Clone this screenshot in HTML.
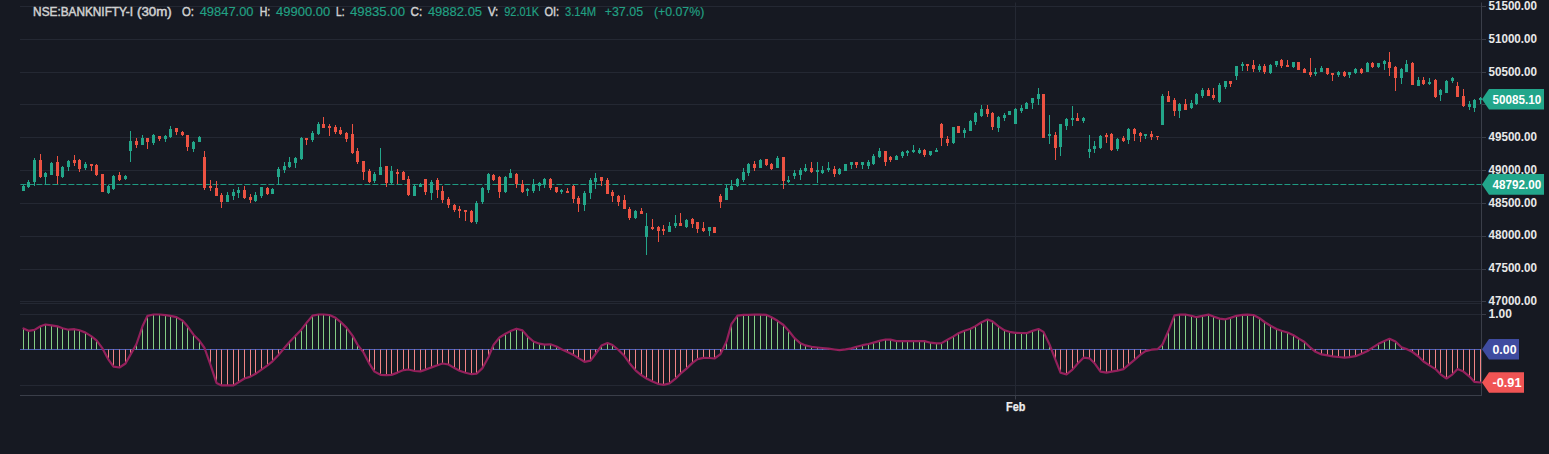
<!DOCTYPE html><html><head><meta charset="utf-8"><style>html,body{margin:0;padding:0;background:#161922;width:1549px;height:454px;overflow:hidden}svg{display:block}text{font-family:"Liberation Sans",sans-serif}</style></head><body><svg width="1549" height="454" viewBox="0 0 1549 454"><rect width="1549" height="454" fill="#161922"/><line x1="20" y1="6.5" x2="1481" y2="6.5" stroke="#242833" stroke-width="1"/><line x1="20" y1="39.5" x2="1481" y2="39.5" stroke="#242833" stroke-width="1"/><line x1="20" y1="72.5" x2="1481" y2="72.5" stroke="#242833" stroke-width="1"/><line x1="20" y1="104.5" x2="1481" y2="104.5" stroke="#242833" stroke-width="1"/><line x1="20" y1="137.5" x2="1481" y2="137.5" stroke="#242833" stroke-width="1"/><line x1="20" y1="170.5" x2="1481" y2="170.5" stroke="#242833" stroke-width="1"/><line x1="20" y1="203.5" x2="1481" y2="203.5" stroke="#242833" stroke-width="1"/><line x1="20" y1="236.5" x2="1481" y2="236.5" stroke="#242833" stroke-width="1"/><line x1="20" y1="269.5" x2="1481" y2="269.5" stroke="#242833" stroke-width="1"/><line x1="20" y1="301.5" x2="1481" y2="301.5" stroke="#242833" stroke-width="1"/><line x1="20" y1="303.5" x2="1481" y2="303.5" stroke="#242833" stroke-width="1"/><line x1="20" y1="314.5" x2="1481" y2="314.5" stroke="#242833" stroke-width="1"/><line x1="20" y1="385.5" x2="1481" y2="385.5" stroke="#242833" stroke-width="1"/><line x1="1015.5" y1="2.5" x2="1015.5" y2="399" stroke="#242833" stroke-width="1"/><line x1="20" y1="395.5" x2="1482" y2="395.5" stroke="#3a3e49" stroke-width="1"/><line x1="1481.5" y1="2.5" x2="1481.5" y2="396" stroke="#3a3e49" stroke-width="1"/><line x1="1481" y1="6.5" x2="1486" y2="6.5" stroke="#3a3e49" stroke-width="1"/><line x1="1481" y1="39.5" x2="1486" y2="39.5" stroke="#3a3e49" stroke-width="1"/><line x1="1481" y1="72.5" x2="1486" y2="72.5" stroke="#3a3e49" stroke-width="1"/><line x1="1481" y1="104.5" x2="1486" y2="104.5" stroke="#3a3e49" stroke-width="1"/><line x1="1481" y1="137.5" x2="1486" y2="137.5" stroke="#3a3e49" stroke-width="1"/><line x1="1481" y1="170.5" x2="1486" y2="170.5" stroke="#3a3e49" stroke-width="1"/><line x1="1481" y1="203.5" x2="1486" y2="203.5" stroke="#3a3e49" stroke-width="1"/><line x1="1481" y1="236.5" x2="1486" y2="236.5" stroke="#3a3e49" stroke-width="1"/><line x1="1481" y1="269.5" x2="1486" y2="269.5" stroke="#3a3e49" stroke-width="1"/><line x1="1481" y1="301.5" x2="1486" y2="301.5" stroke="#3a3e49" stroke-width="1"/><line x1="1481" y1="314.5" x2="1486" y2="314.5" stroke="#3a3e49" stroke-width="1"/><line x1="20.4" y1="184.5" x2="1481" y2="184.5" stroke="#1f9a82" stroke-width="1" stroke-dasharray="6 2"/><path d="M23,185h1V191h-1Z M22,186h3V191h-3Z M28,180h1V188h-1Z M27,182h3V187h-3Z M34,158h1V186h-1Z M33,160h3V182h-3Z M45,172h1V185h-1Z M44,173h3V177h-3Z M51,162h1V175h-1Z M50,163h3V175h-3Z M62,166h1V178h-1Z M61,167h3V177h-3Z M68,160h1V171h-1Z M67,161h3V167h-3Z M85,162h1V170h-1Z M84,164h3V168h-3Z M108,185h1V194h-1Z M107,186h3V193h-3Z M113,175h1V190h-1Z M112,176h3V189h-3Z M125,175h1V180h-1Z M124,176h3V179h-3Z M130,131h1V162h-1Z M129,141h3V151h-3Z M142,135h1V145h-1Z M141,138h3V145h-3Z M153,134h1V145h-1Z M152,135h3V143h-3Z M165,135h1V142h-1Z M164,136h3V139h-3Z M170,126h1V138h-1Z M169,129h3V137h-3Z M193,141h1V152h-1Z M192,142h3V149h-3Z M199,136h1V142h-1Z M198,137h3V142h-3Z M227,192h1V202h-1Z M226,195h3V202h-3Z M233,189h1V200h-1Z M232,192h3V196h-3Z M238,187h1V198h-1Z M237,190h3V193h-3Z M255,192h1V202h-1Z M254,195h3V201h-3Z M261,187h1V198h-1Z M260,187h3V196h-3Z M272,188h1V194h-1Z M271,189h3V194h-3Z M278,167h1V185h-1Z M277,169h3V177h-3Z M284,162h1V173h-1Z M283,166h3V170h-3Z M289,157h1V168h-1Z M288,162h3V167h-3Z M295,157h1V168h-1Z M294,158h3V163h-3Z M301,137h1V160h-1Z M300,138h3V159h-3Z M312,131h1V142h-1Z M311,133h3V140h-3Z M318,122h1V135h-1Z M317,124h3V134h-3Z M374,172h1V183h-1Z M373,174h3V181h-3Z M380,148h1V175h-1Z M379,167h3V175h-3Z M391,166h1V184h-1Z M390,171h3V183h-3Z M414,184h1V196h-1Z M413,186h3V196h-3Z M420,183h1V187h-1Z M419,184h3V187h-3Z M431,180h1V200h-1Z M430,182h3V193h-3Z M476,201h1V224h-1Z M475,203h3V222h-3Z M482,187h1V204h-1Z M481,188h3V202h-3Z M488,173h1V193h-1Z M487,174h3V190h-3Z M505,176h1V193h-1Z M504,177h3V192h-3Z M510,169h1V178h-1Z M509,173h3V178h-3Z M527,188h1V196h-1Z M526,189h3V191h-3Z M533,179h1V193h-1Z M532,184h3V191h-3Z M539,182h1V191h-1Z M538,183h3V186h-3Z M544,178h1V188h-1Z M543,179h3V184h-3Z M561,189h1V194h-1Z M560,190h3V192h-3Z M584,191h1V211h-1Z M583,193h3V205h-3Z M590,178h1V199h-1Z M589,180h3V193h-3Z M595,173h1V189h-1Z M594,178h3V182h-3Z M635,210h1V219h-1Z M634,211h3V218h-3Z M646,213h1V255h-1Z M645,226h3V237h-3Z M669,222h1V232h-1Z M668,226h3V232h-3Z M675,215h1V228h-1Z M674,223h3V226h-3Z M686,219h1V228h-1Z M685,220h3V227h-3Z M709,227h1V236h-1Z M708,227h3V231h-3Z M726,185h1V200h-1Z M725,188h3V200h-3Z M731,180h1V190h-1Z M730,186h3V190h-3Z M737,178h1V187h-1Z M736,179h3V186h-3Z M743,168h1V182h-1Z M742,172h3V180h-3Z M748,163h1V176h-1Z M747,164h3V173h-3Z M760,159h1V168h-1Z M759,160h3V168h-3Z M777,156h1V168h-1Z M776,158h3V168h-3Z M788,176h1V183h-1Z M787,180h3V182h-3Z M794,170h1V179h-1Z M793,173h3V176h-3Z M800,168h1V180h-1Z M799,170h3V175h-3Z M805,164h1V172h-1Z M804,168h3V171h-3Z M817,162h1V183h-1Z M816,170h3V172h-3Z M822,166h1V174h-1Z M821,170h3V173h-3Z M828,162h1V172h-1Z M827,168h3V170h-3Z M839,168h1V175h-1Z M838,169h3V174h-3Z M845,164h1V171h-1Z M844,164h3V171h-3Z M851,162h1V169h-1Z M850,162h3V165h-3Z M862,162h1V169h-1Z M861,162h3V165h-3Z M868,160h1V169h-1Z M867,162h3V166h-3Z M873,154h1V165h-1Z M872,156h3V164h-3Z M879,148h1V158h-1Z M878,151h3V157h-3Z M896,155h1V160h-1Z M895,156h3V160h-3Z M902,151h1V158h-1Z M901,152h3V156h-3Z M907,150h1V156h-1Z M906,151h3V153h-3Z M913,145h1V153h-1Z M912,150h3V152h-3Z M919,148h1V154h-1Z M918,150h3V153h-3Z M930,151h1V156h-1Z M929,151h3V155h-3Z M936,148h1V152h-1Z M935,150h3V152h-3Z M953,127h1V144h-1Z M952,127h3V143h-3Z M964,128h1V138h-1Z M963,130h3V133h-3Z M970,120h1V131h-1Z M969,121h3V131h-3Z M975,112h1V125h-1Z M974,113h3V122h-3Z M981,105h1V117h-1Z M980,109h3V116h-3Z M998,116h1V132h-1Z M997,117h3V128h-3Z M1004,113h1V121h-1Z M1003,115h3V118h-3Z M1009,111h1V115h-1Z M1008,111h3V115h-3Z M1015,108h1V124h-1Z M1014,109h3V124h-3Z M1021,105h1V113h-1Z M1020,108h3V111h-3Z M1026,102h1V109h-1Z M1025,103h3V109h-3Z M1032,98h1V109h-1Z M1031,98h3V103h-3Z M1038,88h1V105h-1Z M1037,94h3V99h-3Z M1049,115h1V144h-1Z M1048,134h3V136h-3Z M1060,124h1V156h-1Z M1059,124h3V147h-3Z M1066,118h1V130h-1Z M1065,119h3V126h-3Z M1072,106h1V126h-1Z M1071,118h3V120h-3Z M1083,117h1V123h-1Z M1082,118h3V121h-3Z M1089,135h1V158h-1Z M1088,149h3V152h-3Z M1094,141h1V153h-1Z M1093,146h3V149h-3Z M1100,135h1V149h-1Z M1099,136h3V148h-3Z M1117,138h1V151h-1Z M1116,139h3V149h-3Z M1128,128h1V144h-1Z M1127,129h3V140h-3Z M1145,134h1V139h-1Z M1144,134h3V136h-3Z M1162,94h1V125h-1Z M1161,96h3V125h-3Z M1179,103h1V118h-1Z M1178,104h3V111h-3Z M1191,100h1V109h-1Z M1190,103h3V108h-3Z M1196,93h1V105h-1Z M1195,94h3V104h-3Z M1202,88h1V98h-1Z M1201,90h3V96h-3Z M1219,83h1V103h-1Z M1218,85h3V102h-3Z M1225,81h1V89h-1Z M1224,81h3V87h-3Z M1236,66h1V80h-1Z M1235,66h3V76h-3Z M1242,62h1V71h-1Z M1241,64h3V66h-3Z M1259,64h1V72h-1Z M1258,66h3V70h-3Z M1270,64h1V74h-1Z M1269,65h3V73h-3Z M1276,61h1V67h-1Z M1275,61h3V65h-3Z M1293,62h1V68h-1Z M1292,62h3V67h-3Z M1315,68h1V76h-1Z M1314,72h3V74h-3Z M1321,66h1V72h-1Z M1320,68h3V72h-3Z M1338,71h1V77h-1Z M1337,72h3V75h-3Z M1349,72h1V78h-1Z M1348,72h3V75h-3Z M1355,68h1V74h-1Z M1354,69h3V73h-3Z M1367,62h1V72h-1Z M1366,63h3V72h-3Z M1378,63h1V68h-1Z M1377,63h3V67h-3Z M1384,60h1V70h-1Z M1383,61h3V64h-3Z M1401,68h1V84h-1Z M1400,69h3V78h-3Z M1406,60h1V72h-1Z M1405,64h3V72h-3Z M1418,77h1V86h-1Z M1417,80h3V86h-3Z M1429,78h1V85h-1Z M1428,82h3V84h-3Z M1440,89h1V101h-1Z M1439,90h3V95h-3Z M1446,80h1V93h-1Z M1445,81h3V93h-3Z M1452,77h1V83h-1Z M1451,78h3V81h-3Z M1469,101h1V110h-1Z M1468,104h3V107h-3Z M1474,99h1V112h-1Z M1473,100h3V108h-3Z M1480,97h1V104h-1Z M1479,98h3V100h-3Z " fill="#23a68a"/><path d="M40,154h1V178h-1Z M39,160h3V177h-3Z M57,156h1V184h-1Z M56,162h3V176h-3Z M74,155h1V166h-1Z M73,160h3V163h-3Z M79,159h1V172h-1Z M78,160h3V169h-3Z M91,164h1V171h-1Z M90,164h3V166h-3Z M96,164h1V176h-1Z M95,165h3V175h-3Z M102,174h1V192h-1Z M101,174h3V192h-3Z M119,172h1V181h-1Z M118,175h3V180h-3Z M136,138h1V148h-1Z M135,141h3V145h-3Z M147,138h1V149h-1Z M146,138h3V142h-3Z M159,136h1V141h-1Z M158,136h3V139h-3Z M176,128h1V135h-1Z M175,128h3V132h-3Z M182,131h1V136h-1Z M181,132h3V135h-3Z M187,135h1V151h-1Z M186,135h3V147h-3Z M204,151h1V190h-1Z M203,157h3V188h-3Z M210,180h1V191h-1Z M209,186h3V188h-3Z M216,181h1V196h-1Z M215,188h3V196h-3Z M221,193h1V208h-1Z M220,195h3V202h-3Z M244,186h1V199h-1Z M243,190h3V198h-3Z M250,194h1V203h-1Z M249,197h3V200h-3Z M267,187h1V195h-1Z M266,188h3V194h-3Z M306,138h1V145h-1Z M305,138h3V140h-3Z M323,117h1V128h-1Z M322,124h3V128h-3Z M329,124h1V136h-1Z M328,126h3V128h-3Z M335,125h1V134h-1Z M334,127h3V132h-3Z M340,127h1V135h-1Z M339,130h3V134h-3Z M346,132h1V142h-1Z M345,133h3V139h-3Z M352,124h1V154h-1Z M351,134h3V153h-3Z M357,148h1V164h-1Z M356,151h3V162h-3Z M363,161h1V180h-1Z M362,161h3V172h-3Z M369,169h1V183h-1Z M368,171h3V182h-3Z M386,166h1V187h-1Z M385,166h3V183h-3Z M397,169h1V184h-1Z M396,172h3V174h-3Z M403,171h1V180h-1Z M402,172h3V180h-3Z M408,176h1V196h-1Z M407,179h3V195h-3Z M425,179h1V195h-1Z M424,179h3V192h-3Z M437,178h1V198h-1Z M436,180h3V190h-3Z M442,186h1V203h-1Z M441,191h3V200h-3Z M448,197h1V208h-1Z M447,199h3V205h-3Z M454,204h1V212h-1Z M453,205h3V210h-3Z M459,206h1V218h-1Z M458,209h3V211h-3Z M465,210h1V221h-1Z M464,210h3V212h-3Z M471,210h1V223h-1Z M470,211h3V222h-3Z M493,174h1V181h-1Z M492,175h3V180h-3Z M499,176h1V198h-1Z M498,177h3V192h-3Z M516,173h1V188h-1Z M515,174h3V184h-3Z M522,180h1V193h-1Z M521,184h3V192h-3Z M550,178h1V190h-1Z M549,179h3V188h-3Z M556,187h1V193h-1Z M555,187h3V192h-3Z M567,188h1V193h-1Z M566,191h3V193h-3Z M573,185h1V203h-1Z M572,186h3V199h-3Z M578,196h1V212h-1Z M577,198h3V204h-3Z M601,177h1V186h-1Z M600,177h3V181h-3Z M607,178h1V194h-1Z M606,180h3V194h-3Z M612,190h1V202h-1Z M611,192h3V196h-3Z M618,195h1V206h-1Z M617,196h3V202h-3Z M624,195h1V209h-1Z M623,200h3V209h-3Z M629,207h1V220h-1Z M628,209h3V218h-3Z M641,208h1V214h-1Z M640,211h3V214h-3Z M652,219h1V230h-1Z M651,227h3V229h-3Z M658,226h1V242h-1Z M657,227h3V231h-3Z M663,225h1V235h-1Z M662,229h3V231h-3Z M680,213h1V226h-1Z M679,223h3V226h-3Z M692,218h1V228h-1Z M691,219h3V224h-3Z M697,222h1V233h-1Z M696,222h3V229h-3Z M703,222h1V232h-1Z M702,228h3V231h-3Z M714,227h1V233h-1Z M713,227h3V233h-3Z M720,194h1V208h-1Z M719,196h3V202h-3Z M754,161h1V171h-1Z M753,164h3V168h-3Z M766,159h1V166h-1Z M765,159h3V165h-3Z M771,163h1V170h-1Z M770,164h3V169h-3Z M783,157h1V189h-1Z M782,157h3V181h-3Z M811,162h1V173h-1Z M810,168h3V172h-3Z M834,166h1V177h-1Z M833,169h3V174h-3Z M856,162h1V168h-1Z M855,162h3V165h-3Z M885,151h1V166h-1Z M884,151h3V162h-3Z M890,156h1V162h-1Z M889,157h3V160h-3Z M924,149h1V157h-1Z M923,150h3V155h-3Z M941,123h1V146h-1Z M940,124h3V138h-3Z M947,136h1V146h-1Z M946,139h3V143h-3Z M958,126h1V133h-1Z M957,126h3V133h-3Z M987,105h1V117h-1Z M986,109h3V114h-3Z M992,112h1V130h-1Z M991,113h3V127h-3Z M1043,94h1V138h-1Z M1042,94h3V138h-3Z M1055,132h1V160h-1Z M1054,135h3V148h-3Z M1077,113h1V121h-1Z M1076,118h3V121h-3Z M1106,133h1V143h-1Z M1105,135h3V137h-3Z M1111,133h1V151h-1Z M1110,134h3V150h-3Z M1123,136h1V142h-1Z M1122,138h3V141h-3Z M1134,128h1V141h-1Z M1133,129h3V134h-3Z M1140,132h1V142h-1Z M1139,133h3V136h-3Z M1151,131h1V140h-1Z M1150,134h3V137h-3Z M1157,136h1V140h-1Z M1156,136h3V137h-3Z M1168,91h1V102h-1Z M1167,96h3V102h-3Z M1174,98h1V116h-1Z M1173,100h3V111h-3Z M1185,99h1V110h-1Z M1184,104h3V110h-3Z M1208,88h1V96h-1Z M1207,90h3V96h-3Z M1213,88h1V100h-1Z M1212,95h3V98h-3Z M1230,81h1V87h-1Z M1229,81h3V84h-3Z M1247,64h1V71h-1Z M1246,64h3V66h-3Z M1253,60h1V72h-1Z M1252,65h3V69h-3Z M1264,64h1V74h-1Z M1263,66h3V72h-3Z M1281,59h1V68h-1Z M1280,60h3V66h-3Z M1287,60h1V67h-1Z M1286,65h3V67h-3Z M1298,62h1V70h-1Z M1297,62h3V70h-3Z M1304,68h1V73h-1Z M1303,69h3V73h-3Z M1310,58h1V77h-1Z M1309,72h3V75h-3Z M1327,68h1V75h-1Z M1326,68h3V74h-3Z M1332,73h1V81h-1Z M1331,73h3V75h-3Z M1344,71h1V77h-1Z M1343,72h3V76h-3Z M1361,68h1V74h-1Z M1360,69h3V73h-3Z M1372,62h1V68h-1Z M1371,63h3V67h-3Z M1389,52h1V76h-1Z M1388,62h3V68h-3Z M1395,66h1V91h-1Z M1394,67h3V78h-3Z M1412,62h1V85h-1Z M1411,63h3V85h-3Z M1423,77h1V85h-1Z M1422,80h3V84h-3Z M1435,79h1V98h-1Z M1434,80h3V97h-3Z M1457,82h1V97h-1Z M1456,86h3V97h-3Z M1463,89h1V107h-1Z M1462,96h3V106h-3Z " fill="#ec5242"/><line x1="20" y1="349.5" x2="1481" y2="349.5" stroke="#5060b6" stroke-width="1"/><path d="M23.5,349.5V328.4M28.5,349.5V330.8M34.5,349.5V329.9M40.5,349.5V326.3M45.5,349.5V324.5M51.5,349.5V325.3M57.5,349.5V326.3M62.5,349.5V328.2M68.5,349.5V329.7M74.5,349.5V329.2M79.5,349.5V330.3M85.5,349.5V332.6M91.5,349.5V336.4M96.5,349.5V340.4M102.5,349.5V348.4M136.5,349.5V344.0M142.5,349.5V326.3M147.5,349.5V315.8M153.5,349.5V314.5M159.5,349.5V314.5M165.5,349.5V315.1M170.5,349.5V315.8M176.5,349.5V317.1M182.5,349.5V320.6M187.5,349.5V326.3M193.5,349.5V334.7M199.5,349.5V340.8M204.5,349.5V348.0M284.5,349.5V347.8M289.5,349.5V342.1M295.5,349.5V335.8M301.5,349.5V329.4M306.5,349.5V322.9M312.5,349.5V315.6M318.5,349.5V314.5M323.5,349.5V314.5M329.5,349.5V315.0M335.5,349.5V317.8M340.5,349.5V321.9M346.5,349.5V327.6M352.5,349.5V335.6M357.5,349.5V344.6M493.5,349.5V344.9M499.5,349.5V337.5M505.5,349.5V333.8M510.5,349.5V331.1M516.5,349.5V328.7M522.5,349.5V330.4M527.5,349.5V336.3M533.5,349.5V341.5M539.5,349.5V343.7M544.5,349.5V344.6M550.5,349.5V344.3M556.5,349.5V346.5M601.5,349.5V345.6M607.5,349.5V343.0M612.5,349.5V345.0M726.5,349.5V341.6M731.5,349.5V323.8M737.5,349.5V315.7M743.5,349.5V314.8M748.5,349.5V314.8M754.5,349.5V314.7M760.5,349.5V314.6M766.5,349.5V314.9M771.5,349.5V317.3M777.5,349.5V320.8M783.5,349.5V325.0M788.5,349.5V330.5M794.5,349.5V338.1M800.5,349.5V343.3M805.5,349.5V345.4M811.5,349.5V346.8M817.5,349.5V347.5M822.5,349.5V348.0M828.5,349.5V348.7M851.5,349.5V348.4M856.5,349.5V346.7M862.5,349.5V345.2M868.5,349.5V344.0M873.5,349.5V342.6M879.5,349.5V340.9M885.5,349.5V339.5M890.5,349.5V339.6M896.5,349.5V341.1M902.5,349.5V341.1M907.5,349.5V341.1M913.5,349.5V341.1M919.5,349.5V341.1M924.5,349.5V341.1M930.5,349.5V342.7M936.5,349.5V343.4M941.5,349.5V343.1M947.5,349.5V339.8M953.5,349.5V336.4M958.5,349.5V333.2M964.5,349.5V330.7M970.5,349.5V328.8M975.5,349.5V326.1M981.5,349.5V322.3M987.5,349.5V319.5M992.5,349.5V321.4M998.5,349.5V326.3M1004.5,349.5V330.3M1009.5,349.5V331.8M1015.5,349.5V332.8M1021.5,349.5V333.0M1026.5,349.5V333.2M1032.5,349.5V330.9M1038.5,349.5V329.0M1043.5,349.5V331.9M1049.5,349.5V344.5M1162.5,349.5V344.5M1168.5,349.5V330.8M1174.5,349.5V315.4M1179.5,349.5V314.7M1185.5,349.5V314.5M1191.5,349.5V315.8M1196.5,349.5V317.2M1202.5,349.5V315.9M1208.5,349.5V314.6M1213.5,349.5V316.5M1219.5,349.5V318.6M1225.5,349.5V319.3M1230.5,349.5V317.9M1236.5,349.5V315.8M1242.5,349.5V314.8M1247.5,349.5V314.7M1253.5,349.5V315.0M1259.5,349.5V318.2M1264.5,349.5V322.0M1270.5,349.5V325.8M1276.5,349.5V329.0M1281.5,349.5V330.8M1287.5,349.5V332.5M1293.5,349.5V335.2M1298.5,349.5V338.4M1304.5,349.5V342.0M1310.5,349.5V347.7M1372.5,349.5V347.7M1378.5,349.5V343.8M1384.5,349.5V340.9M1389.5,349.5V338.8M1395.5,349.5V341.6M1401.5,349.5V347.2" stroke="#84cc84" stroke-width="1" fill="none"/><path d="M108.5,349.5V359.7M113.5,349.5V366.6M119.5,349.5V367.5M125.5,349.5V363.5M130.5,349.5V354.6M210.5,349.5V364.8M216.5,349.5V382.9M221.5,349.5V385.4M227.5,349.5V385.4M233.5,349.5V385.4M238.5,349.5V382.3M244.5,349.5V378.5M250.5,349.5V376.6M255.5,349.5V373.8M261.5,349.5V369.6M267.5,349.5V365.3M272.5,349.5V361.3M278.5,349.5V355.1M363.5,349.5V352.4M369.5,349.5V363.9M374.5,349.5V371.6M380.5,349.5V374.8M386.5,349.5V375.2M391.5,349.5V374.9M397.5,349.5V372.6M403.5,349.5V370.1M408.5,349.5V369.5M414.5,349.5V371.0M420.5,349.5V371.4M425.5,349.5V369.6M431.5,349.5V367.4M437.5,349.5V365.2M442.5,349.5V363.5M448.5,349.5V364.5M454.5,349.5V368.1M459.5,349.5V370.7M465.5,349.5V372.7M471.5,349.5V374.2M476.5,349.5V373.7M482.5,349.5V368.1M488.5,349.5V357.0M567.5,349.5V352.0M573.5,349.5V354.9M578.5,349.5V358.1M584.5,349.5V361.8M590.5,349.5V360.7M595.5,349.5V354.0M624.5,349.5V356.1M629.5,349.5V363.2M635.5,349.5V370.3M641.5,349.5V375.3M646.5,349.5V378.5M652.5,349.5V381.6M658.5,349.5V384.0M663.5,349.5V384.9M669.5,349.5V383.4M675.5,349.5V378.6M680.5,349.5V373.7M686.5,349.5V368.6M692.5,349.5V362.9M697.5,349.5V359.1M703.5,349.5V357.8M709.5,349.5V358.0M714.5,349.5V358.5M720.5,349.5V354.1M839.5,349.5V350.2M1055.5,349.5V359.8M1060.5,349.5V372.7M1066.5,349.5V374.4M1072.5,349.5V369.6M1077.5,349.5V363.8M1083.5,349.5V357.7M1089.5,349.5V358.3M1094.5,349.5V363.2M1100.5,349.5V371.6M1106.5,349.5V372.7M1111.5,349.5V371.7M1117.5,349.5V370.6M1123.5,349.5V369.1M1128.5,349.5V364.9M1134.5,349.5V359.8M1140.5,349.5V354.6M1145.5,349.5V351.1M1315.5,349.5V351.8M1321.5,349.5V354.4M1327.5,349.5V355.4M1332.5,349.5V356.3M1338.5,349.5V357.0M1344.5,349.5V357.6M1349.5,349.5V357.2M1355.5,349.5V356.2M1361.5,349.5V353.8M1367.5,349.5V351.0M1412.5,349.5V352.0M1418.5,349.5V356.5M1423.5,349.5V361.5M1429.5,349.5V365.4M1435.5,349.5V369.1M1440.5,349.5V374.3M1446.5,349.5V378.5M1452.5,349.5V374.3M1457.5,349.5V369.1M1463.5,349.5V371.6M1469.5,349.5V376.6M1474.5,349.5V381.9M1480.5,349.5V382.5" stroke="#f08585" stroke-width="1" fill="none"/><path d="M23.5,328.4 L28.5,330.8 L34.5,329.9 L40.5,326.3 L45.5,324.5 L51.5,325.3 L57.5,326.3 L62.5,328.2 L68.5,329.7 L74.5,329.2 L79.5,330.3 L85.5,332.6 L91.5,336.4 L96.5,340.4 L102.5,348.4 L108.5,359.7 L113.5,366.6 L119.5,367.5 L125.5,363.5 L130.5,354.6 L136.5,344.0 L142.5,326.3 L147.5,315.8 L153.5,314.5 L159.5,314.5 L165.5,315.1 L170.5,315.8 L176.5,317.1 L182.5,320.6 L187.5,326.3 L193.5,334.7 L199.5,340.8 L204.5,348.0 L210.5,364.8 L216.5,382.9 L221.5,385.4 L227.5,385.4 L233.5,385.4 L238.5,382.3 L244.5,378.5 L250.5,376.6 L255.5,373.8 L261.5,369.6 L267.5,365.3 L272.5,361.3 L278.5,355.1 L284.5,347.8 L289.5,342.1 L295.5,335.8 L301.5,329.4 L306.5,322.9 L312.5,315.6 L318.5,314.5 L323.5,314.5 L329.5,315.0 L335.5,317.8 L340.5,321.9 L346.5,327.6 L352.5,335.6 L357.5,344.6 L363.5,352.4 L369.5,363.9 L374.5,371.6 L380.5,374.8 L386.5,375.2 L391.5,374.9 L397.5,372.6 L403.5,370.1 L408.5,369.5 L414.5,371.0 L420.5,371.4 L425.5,369.6 L431.5,367.4 L437.5,365.2 L442.5,363.5 L448.5,364.5 L454.5,368.1 L459.5,370.7 L465.5,372.7 L471.5,374.2 L476.5,373.7 L482.5,368.1 L488.5,357.0 L493.5,344.9 L499.5,337.5 L505.5,333.8 L510.5,331.1 L516.5,328.7 L522.5,330.4 L527.5,336.3 L533.5,341.5 L539.5,343.7 L544.5,344.6 L550.5,344.3 L556.5,346.5 L561.5,349.2 L567.5,352.0 L573.5,354.9 L578.5,358.1 L584.5,361.8 L590.5,360.7 L595.5,354.0 L601.5,345.6 L607.5,343.0 L612.5,345.0 L618.5,350.0 L624.5,356.1 L629.5,363.2 L635.5,370.3 L641.5,375.3 L646.5,378.5 L652.5,381.6 L658.5,384.0 L663.5,384.9 L669.5,383.4 L675.5,378.6 L680.5,373.7 L686.5,368.6 L692.5,362.9 L697.5,359.1 L703.5,357.8 L709.5,358.0 L714.5,358.5 L720.5,354.1 L726.5,341.6 L731.5,323.8 L737.5,315.7 L743.5,314.8 L748.5,314.8 L754.5,314.7 L760.5,314.6 L766.5,314.9 L771.5,317.3 L777.5,320.8 L783.5,325.0 L788.5,330.5 L794.5,338.1 L800.5,343.3 L805.5,345.4 L811.5,346.8 L817.5,347.5 L822.5,348.0 L828.5,348.7 L834.5,349.5 L839.5,350.2 L845.5,349.4 L851.5,348.4 L856.5,346.7 L862.5,345.2 L868.5,344.0 L873.5,342.6 L879.5,340.9 L885.5,339.5 L890.5,339.6 L896.5,341.1 L902.5,341.1 L907.5,341.1 L913.5,341.1 L919.5,341.1 L924.5,341.1 L930.5,342.7 L936.5,343.4 L941.5,343.1 L947.5,339.8 L953.5,336.4 L958.5,333.2 L964.5,330.7 L970.5,328.8 L975.5,326.1 L981.5,322.3 L987.5,319.5 L992.5,321.4 L998.5,326.3 L1004.5,330.3 L1009.5,331.8 L1015.5,332.8 L1021.5,333.0 L1026.5,333.2 L1032.5,330.9 L1038.5,329.0 L1043.5,331.9 L1049.5,344.5 L1055.5,359.8 L1060.5,372.7 L1066.5,374.4 L1072.5,369.6 L1077.5,363.8 L1083.5,357.7 L1089.5,358.3 L1094.5,363.2 L1100.5,371.6 L1106.5,372.7 L1111.5,371.7 L1117.5,370.6 L1123.5,369.1 L1128.5,364.9 L1134.5,359.8 L1140.5,354.6 L1145.5,351.1 L1151.5,349.7 L1157.5,349.2 L1162.5,344.5 L1168.5,330.8 L1174.5,315.4 L1179.5,314.7 L1185.5,314.5 L1191.5,315.8 L1196.5,317.2 L1202.5,315.9 L1208.5,314.6 L1213.5,316.5 L1219.5,318.6 L1225.5,319.3 L1230.5,317.9 L1236.5,315.8 L1242.5,314.8 L1247.5,314.7 L1253.5,315.0 L1259.5,318.2 L1264.5,322.0 L1270.5,325.8 L1276.5,329.0 L1281.5,330.8 L1287.5,332.5 L1293.5,335.2 L1298.5,338.4 L1304.5,342.0 L1310.5,347.7 L1315.5,351.8 L1321.5,354.4 L1327.5,355.4 L1332.5,356.3 L1338.5,357.0 L1344.5,357.6 L1349.5,357.2 L1355.5,356.2 L1361.5,353.8 L1367.5,351.0 L1372.5,347.7 L1378.5,343.8 L1384.5,340.9 L1389.5,338.8 L1395.5,341.6 L1401.5,347.2 L1406.5,349.1 L1412.5,352.0 L1418.5,356.5 L1423.5,361.5 L1429.5,365.4 L1435.5,369.1 L1440.5,374.3 L1446.5,378.5 L1452.5,374.3 L1457.5,369.1 L1463.5,371.6 L1469.5,376.6 L1474.5,381.9 L1480.5,382.5" stroke="#94205c" stroke-width="2.2" fill="none" stroke-linejoin="round" stroke-linecap="round"/><text x="1488.5" y="9.9" font-size="12" font-weight="700" fill="#e8e8e8" textLength="48.5" lengthAdjust="spacingAndGlyphs">51500.00</text><text x="1488.5" y="42.7" font-size="12" font-weight="700" fill="#e8e8e8" textLength="48.5" lengthAdjust="spacingAndGlyphs">51000.00</text><text x="1488.5" y="75.5" font-size="12" font-weight="700" fill="#e8e8e8" textLength="48.5" lengthAdjust="spacingAndGlyphs">50500.00</text><text x="1488.5" y="108.2" font-size="12" font-weight="700" fill="#e8e8e8" textLength="48.5" lengthAdjust="spacingAndGlyphs">50000.00</text><text x="1488.5" y="141.0" font-size="12" font-weight="700" fill="#e8e8e8" textLength="48.5" lengthAdjust="spacingAndGlyphs">49500.00</text><text x="1488.5" y="173.8" font-size="12" font-weight="700" fill="#e8e8e8" textLength="48.5" lengthAdjust="spacingAndGlyphs">49000.00</text><text x="1488.5" y="206.6" font-size="12" font-weight="700" fill="#e8e8e8" textLength="48.5" lengthAdjust="spacingAndGlyphs">48500.00</text><text x="1488.5" y="239.4" font-size="12" font-weight="700" fill="#e8e8e8" textLength="48.5" lengthAdjust="spacingAndGlyphs">48000.00</text><text x="1488.5" y="272.1" font-size="12" font-weight="700" fill="#e8e8e8" textLength="48.5" lengthAdjust="spacingAndGlyphs">47500.00</text><text x="1488.5" y="304.9" font-size="12" font-weight="700" fill="#e8e8e8" textLength="48.5" lengthAdjust="spacingAndGlyphs">47000.00</text><text x="1488.5" y="317.8" font-size="12" font-weight="700" fill="#e8e8e8">1.00</text><path d="M1482,99.3 L1489,89.0 H1544 V109.6 H1489 Z" fill="#22a68b"/><text x="1492.5" y="103.7" font-size="12.5" font-weight="700" fill="#ffffff" textLength="48.7" lengthAdjust="spacingAndGlyphs">50085.10</text><path d="M1482,184.4 L1489,174.1 H1544 V194.70000000000002 H1489 Z" fill="#22a68b"/><text x="1492.5" y="188.8" font-size="12.5" font-weight="700" fill="#ffffff" textLength="48.7" lengthAdjust="spacingAndGlyphs">48792.00</text><path d="M1482,349.3 L1489,339.0 H1519 V359.6 H1489 Z" fill="#3f4ca0"/><text x="1492.5" y="353.7" font-size="12.5" font-weight="700" fill="#ffffff" textLength="24" lengthAdjust="spacingAndGlyphs">0.00</text><path d="M1482,382.5 L1489,372.2 H1524 V392.8 H1489 Z" fill="#f05454"/><text x="1492.5" y="386.9" font-size="12.5" font-weight="700" fill="#ffffff" textLength="29" lengthAdjust="spacingAndGlyphs">-0.91</text><line x1="1015.5" y1="395" x2="1015.5" y2="399.5" stroke="#3a3e49" stroke-width="1"/><text x="1006" y="411" font-size="12.5" font-weight="700" fill="#eeeeee" stroke="#eeeeee" stroke-width="0.25" textLength="19.3" lengthAdjust="spacingAndGlyphs">Feb</text><text x="33.1" y="16" font-size="12.6" font-weight="400" fill="#d0d0d0" stroke="#d0d0d0" stroke-width="0.5" textLength="100.0" lengthAdjust="spacingAndGlyphs">NSE:BANKNIFTY-I</text><text x="137.0" y="16" font-size="12.6" font-weight="400" fill="#d0d0d0" stroke="#d0d0d0" stroke-width="0.5" textLength="34.8" lengthAdjust="spacingAndGlyphs">(30m)</text><text x="181.9" y="16" font-size="12.6" font-weight="400" fill="#d0d0d0" stroke="#d0d0d0" stroke-width="0.5" textLength="12.0" lengthAdjust="spacingAndGlyphs">O:</text><text x="199.7" y="16" font-size="12.6" font-weight="400" fill="#22a184" stroke="#22a184" stroke-width="0.15" textLength="53.8" lengthAdjust="spacingAndGlyphs">49847.00</text><text x="259.7" y="16" font-size="12.6" font-weight="400" fill="#d0d0d0" stroke="#d0d0d0" stroke-width="0.5" textLength="10.5" lengthAdjust="spacingAndGlyphs">H:</text><text x="276.0" y="16" font-size="12.6" font-weight="400" fill="#22a184" stroke="#22a184" stroke-width="0.15" textLength="54.2" lengthAdjust="spacingAndGlyphs">49900.00</text><text x="336.0" y="16" font-size="12.6" font-weight="400" fill="#d0d0d0" stroke="#d0d0d0" stroke-width="0.5" textLength="8.5" lengthAdjust="spacingAndGlyphs">L:</text><text x="350.0" y="16" font-size="12.6" font-weight="400" fill="#22a184" stroke="#22a184" stroke-width="0.15" textLength="55.0" lengthAdjust="spacingAndGlyphs">49835.00</text><text x="410.5" y="16" font-size="12.6" font-weight="400" fill="#d0d0d0" stroke="#d0d0d0" stroke-width="0.5" textLength="11.6" lengthAdjust="spacingAndGlyphs">C:</text><text x="427.9" y="16" font-size="12.6" font-weight="400" fill="#22a184" stroke="#22a184" stroke-width="0.15" textLength="54.2" lengthAdjust="spacingAndGlyphs">49882.05</text><text x="487.9" y="16" font-size="12.6" font-weight="400" fill="#d0d0d0" stroke="#d0d0d0" stroke-width="0.5" textLength="10.4" lengthAdjust="spacingAndGlyphs">V:</text><text x="504.2" y="16" font-size="12.6" font-weight="400" fill="#22a184" stroke="#22a184" stroke-width="0.15" textLength="34.8" lengthAdjust="spacingAndGlyphs">92.01K</text><text x="544.4" y="16" font-size="12.6" font-weight="400" fill="#d0d0d0" stroke="#d0d0d0" stroke-width="0.5" textLength="14.7" lengthAdjust="spacingAndGlyphs">OI:</text><text x="565.0" y="16" font-size="12.6" font-weight="400" fill="#22a184" stroke="#22a184" stroke-width="0.15" textLength="31.2" lengthAdjust="spacingAndGlyphs">3.14M</text><text x="604.7" y="16" font-size="12.6" font-weight="400" fill="#22a184" stroke="#22a184" stroke-width="0.15" textLength="38.4" lengthAdjust="spacingAndGlyphs">+37.05</text><text x="653.9" y="16" font-size="12.6" font-weight="400" fill="#22a184" stroke="#22a184" stroke-width="0.15" textLength="50.4" lengthAdjust="spacingAndGlyphs">(+0.07%)</text></svg></body></html>
